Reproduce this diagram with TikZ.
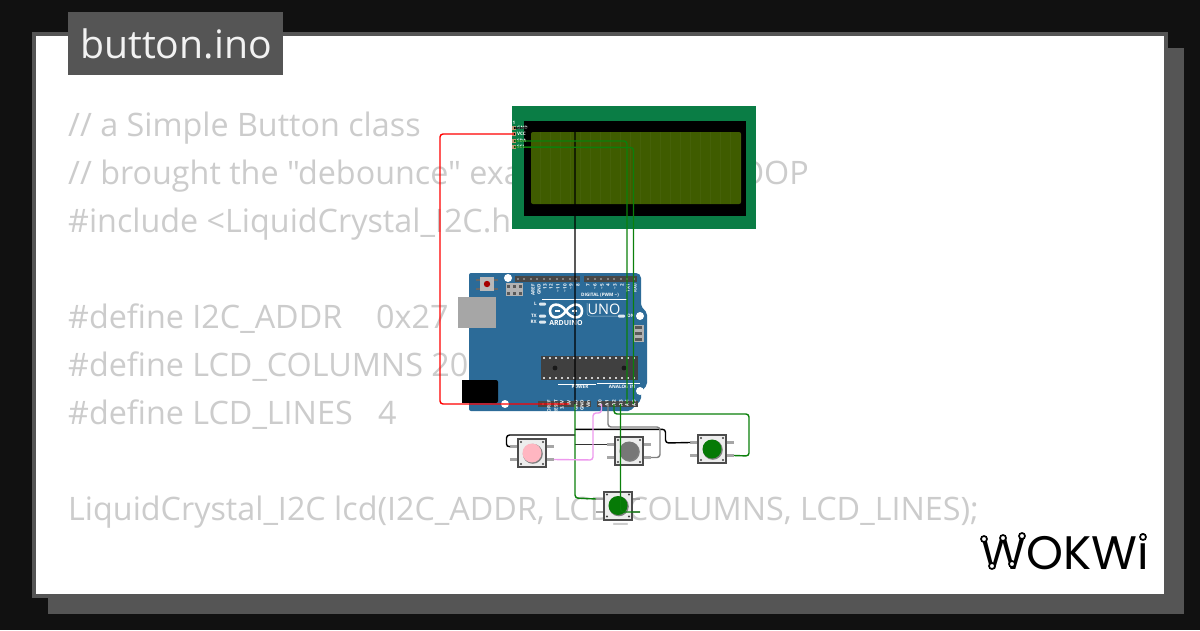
\documentclass[tikz,border=0pt]{standalone}
\usepackage{fontspec}
\setmainfont{Open Sans}
\newfontfamily\codefont{Open Sans}
\newfontfamily\logofont{Poppins}
\usetikzlibrary{calc}
\usetikzlibrary{positioning}
\definecolor{pagebg}{HTML}{111111}
\definecolor{framegray}{HTML}{555555}
\definecolor{codegray}{HTML}{CCCCCC}
\definecolor{lcdgreen}{HTML}{0A7D45}
\definecolor{lcdscreen}{HTML}{3F5C00}
\definecolor{unoblue}{HTML}{2C6B98}
\definecolor{wirepink}{HTML}{EE99EE}
\definecolor{wiregreen}{HTML}{0B800B}
\definecolor{cappink}{HTML}{FFB6C1}
\definecolor{capgray}{HTML}{777777}
\definecolor{capgreen}{HTML}{067A06}
\tikzset{
    codeline/.style={anchor=base west, inner sep=0pt, text=codegray, font=\codefont\fontsize{32.3}{36}\selectfont},
    wire/.style={line width=1.4pt, rounded corners=3pt},
    tinylabel/.style={inner sep=0pt, text=white, font=\fontsize{4.6}{5}\selectfont\bfseries},
    pinlabel/.style={tinylabel, rotate=90, anchor=east},
    ledmark/.style={fill=white!85!unoblue, rounded corners=1pt},
    wokwitip/.style={draw=black, fill=white, line width=1.7pt},
}
\newcommand{\pushbutton}[4]{% name, x, y, cap colour
    \begin{scope}[shift={(#2,#3)}]
        \foreach \py in {-6.5,6.5} {
            \fill[gray!70] (-22,\py-1.2) rectangle (22,\py+1.2);
        }
        \node[draw=black!70, fill=black!7, line width=2pt, minimum size=28pt, inner sep=0pt] (#1) at (0,0) {};
        \foreach \dx in {-11,11} {
            \foreach \dy in {-11,11} {
                \fill[black!75] (\dx,\dy) circle (1.1pt);
            }
        }
        \fill[black!50] (0.8,0.8) circle (10pt);
        \fill[#4] (0,0) circle (9.5pt);
        \coordinate (#1TL) at (-22,-6.5);
        \coordinate (#1BL) at (-22,6.5);
        \coordinate (#1TR) at (22,-6.5);
        \coordinate (#1BR) at (22,6.5);
    \end{scope}
}
\begin{document}
\begin{tikzpicture}[x=1pt, y=-1pt]
    \useasboundingbox (0,0) rectangle (1200,630);
    \fill[pagebg] (0,0) rectangle (1200,630);
    \fill[framegray] (48,48) rectangle (1184,614);
    \draw[framegray, fill=white, line width=4pt] (34,34) rectangle (1166,596);
    \fill[framegray] (68,12) rectangle (283,75);
    \node[inner sep=0pt, anchor=base west, text=white!95!black, font=\fontsize{39.2}{44}\selectfont] (title) at (80,58) {button.ino};

    \node[codeline] (code1) at (68,136) {// a Simple Button class};
    \node[codeline] (code2) at (68,184) {// brought the "debounce" example made in\hspace{2pt} OOP};
    \node[codeline] (code3) at (68,232) {\#include <LiquidCrystal\_I2C.h>};
    \node[codeline] (code4) at (68,328) {\#define I2C\_ADDR};
    \node[codeline] (code4b) at (376,328) {0x27};
    \node[codeline] (code5) at (68,376) {\#define LCD\_COLUMNS 20};
    \node[codeline] (code6) at (68,424) {\#define LCD\_LINES};
    \node[codeline] (code6b) at (378,424) {4};
    \node[codeline] (code7) at (68,520) {LiquidCrystal\_I2C lcd(I2C\_ADDR, LCD\_COLUMNS, LCD\_LINES);};

    % lcd
    \fill[lcdgreen] (512,106) rectangle (756,229);
    \fill[black] (524,121) rectangle (746,216);
    \fill[lcdscreen, rounded corners=2pt] (531,132) rectangle (741,204);
    \foreach \gx in {540,550,...,740} {
        \draw[white, opacity=0.035, line width=0.5pt] (\gx,132) -- (\gx,204);
    }
    \foreach \py/\pname/\plabel in {128/lcdgnd/GND,134/lcdvcc/VCC,141/lcdsda/SDA,147/lcdscl/SCL} {
        \fill[black!20!brown!70!white] (512,\py-2) rectangle (516,\py+2);
        \fill[black] (513.5,\py-0.8) rectangle (515,\py+0.8);
        \coordinate (\pname) at (514,\py);
        \node[tinylabel, anchor=west] (\pname text) at (517,\py) {\plabel};
    }
    \node[tinylabel] (lcdone) at (514,122.5) {1};

    % uno
    \fill[unoblue, rounded corners=2pt] (469,273) -- (638,273) -- (641,276) -- (641,306) -- (647,313) -- (647,385) -- (641,392) -- (641,400) -- (630,411) -- (469,411) -- cycle;
    \fill[gray!70] (458,297) rectangle (496,328);
    \fill[black] (462,380) rectangle (494,403);
    \fill[black, rounded corners=2pt] (490,380) rectangle (498,403);
    \foreach \hx/\hy in {508/278,640/316,640/391,505/404} {
        \fill[white] (\hx,\hy) circle (4pt);
    }
    \fill[gray!80!black] (476,279) rectangle (498,280.5);
    \fill[gray!80!black] (476,288) rectangle (498,289.5);
    \fill[gray!55] (480,277) rectangle (494,291);
    \fill[red!65!black] (487,284) circle (3.2pt);
    \fill[black!72] (515,276) rectangle (580,282);
    \fill[black!72] (584,276) rectangle (637,282);
    \fill[black!72] (538,401) rectangle (591,407);
    \fill[black!72] (597,401) rectangle (638,407);
    \foreach \pinx in {517.5,524,...,578} {
        \fill[black!50] (\pinx-1,278) rectangle (\pinx+1,280);
    }
    \foreach \pinx in {588,594.5,...,635} {
        \fill[black!50] (\pinx-1,278) rectangle (\pinx+1,280);
    }
    \foreach \pinx in {543,549.5,...,590} {
        \fill[black!50] (\pinx-1,403) rectangle (\pinx+1,405);
    }
    \foreach \pinx in {600,606.7,...,636} {
        \fill[black!50] (\pinx-1,403) rectangle (\pinx+1,405);
    }
    \fill[gray!60] (506,283) rectangle (523,296);
    \foreach \ix in {508.5,514.5,520.5} {
        \foreach \iy in {286,293} {
            \fill[black!65] (\ix-1.5,\iy-1.5) rectangle (\ix+1.5,\iy+1.5);
        }
    }
    \fill[gray!60] (633,325) rectangle (644,342);
    \foreach \iy in {327.5,333.5,339.5} {
        \fill[black!65] (635,\iy-1.5) rectangle (642,\iy+1.5);
    }
    % chip
    \fill[black!75] (541,356) rectangle (638,380);
    \foreach \cx in {544,550,...,636} {
        \fill[white!80!black] (\cx-0.8,357) rectangle (\cx+0.8,358.6);
        \fill[white!80!black] (\cx-0.8,377.4) rectangle (\cx+0.8,379);
    }
    \fill[black!90] (555,368) circle (2.4pt);
    \fill[black!90] (624,368) circle (2.4pt);
    % logo
    \draw[white, line width=2.6pt] (566,311) .. controls (560,302) and (550,303) .. (550,311) .. controls (550,319) and (560,320) .. (566,311) .. controls (572,302) and (582,303) .. (582,311) .. controls (582,319) and (572,320) .. (566,311) -- cycle;
    \draw[white, line width=1.2pt] (555,311) -- (560,311) (572,311) -- (577,311) (574.5,308.5) -- (574.5,313.5);
    \node[inner sep=0pt, text=white, font=\fontsize{7}{8}\selectfont\bfseries] (unoname) at (566,322.5) {ARDUINO};
    \node[inner sep=0pt, text=white, font=\fontsize{14.5}{16}\selectfont] (unomark) at (604,309) {UNO};
    \draw[white!60!unoblue, line width=0.5pt, rounded corners=3pt] (587,303) -- (587,316) -- (621,316);
    \draw[white, line width=0.5pt] (542,299) -- (627,299);
    \draw[white, line width=0.5pt] (558,384.5) -- (596,384.5);
    \draw[white, line width=0.5pt] (597,383) -- (640,383);
    \node[tinylabel] (digital) at (600,295) {DIGITAL (PWM \textasciitilde)};
    \node[tinylabel] (power) at (580,387) {POWER};
    \node[tinylabel] (analog) at (622,387) {ANALOG IN};
    \fill[ledmark] (539,302.5) rectangle (546,305.5);
    \fill[ledmark] (539,314.5) rectangle (546,317.5);
    \fill[ledmark] (539,320.5) rectangle (546,323.5);
    \fill[ledmark] (618,314.5) rectangle (625,317.5);
    \node[tinylabel, anchor=east] (ledl) at (537,304) {L};
    \node[tinylabel, anchor=east] (ledtx) at (537,316) {TX};
    \node[tinylabel, anchor=east] (ledrx) at (537,322) {RX};
    \node[tinylabel, anchor=west] (ledon) at (627,316) {ON};
    \foreach \lx/\ltext in {533/AREF,539/GND,545/13,551/12,558/\textasciitilde11,565/\textasciitilde10,571/\textasciitilde9,578/8,588/7,595/\textasciitilde6,602/\textasciitilde5,608/4,615/\textasciitilde3,622/2,628/TX1,635/RX0} {
        \node[pinlabel] at (\lx,284) {\ltext};
    }
    \foreach \lx/\ltext in {549/IOREF,556/RESET,562/3.3V,569/5V,576/GND,582/GND,588/Vin,600/A0,607/A1,614/A2,621/A3,627/A4,634/A5} {
        \node[pinlabel] at (\lx,400) {\ltext};
    }
    \coordinate (uno5v) at (569,404);
    \coordinate (unognd) at (575,404);
    \coordinate (unoa0) at (601.5,404);
    \coordinate (unoa1) at (608,404);
    \coordinate (unoa2) at (614,404);
    \coordinate (unoa3) at (620.5,404);
    \coordinate (unoa4) at (627,404);
    \coordinate (unoa5) at (633.5,404);

    % buttons
    \pushbutton{btnpink}{532}{453}{cappink}
    \pushbutton{btngray}{629}{451}{capgray}
    \pushbutton{btngreen}{712}{449}{capgreen}
    \pushbutton{btnlow}{618}{505.5}{capgreen}

    % wires
    \draw[wire, red] (lcdvcc) -- (440,134) -- (440,404) -- (uno5v);
    \draw[wire, black] (lcdgnd) -- (575,128) -- (unognd);
    \draw[wire, wiregreen] (lcdsda) -- (627,141) -- (unoa4);
    \draw[wire, wiregreen] (lcdscl) -- (633.5,147.5) -- (unoa5);
    \draw[wire, black] (575,435) -- (506.5,435) -- (506.5,447) -- (btnpinkTL);
    \draw[wire, black] (575,429.3) -- (665.5,429.3) -- (665.5,443) -- (btngreenTL);
    \draw[wire, black!80] (575,444.5) -- (btngrayTL);
    \draw[wire, wiregreen] (unognd) -- (575,498) -- (btnlowTL);
    \draw[wire, wirepink] (unoa0) -- (601.5,413) -- (593,413) -- (593,460) -- (btnpinkBR);
    \draw[wire, gray] (unoa1) -- (608,427) -- (660,427) -- (660,457.5) -- (btngrayBR);
    \draw[wire, wiregreen] (unoa2) -- (614,414) -- (749,414) -- (749,456) -- (btngreenBR);
    \draw[wire, wiregreen] (unoa3) -- (620.5,512) -- (btnlowBR);

    % wokwi mark
    \node[inner sep=0pt, anchor=base west, text=black, font=\logofont\fontsize{47}{50}\selectfont] (wokwi) at (980,569) {WOKWi};
    \foreach \tx/\ty in {984/539,1003/538,1022/536,992/566,1012/564,1143/537} {
        \draw[wokwitip] (\tx,\ty) circle (3pt);
    }
\end{tikzpicture}
\end{document}
